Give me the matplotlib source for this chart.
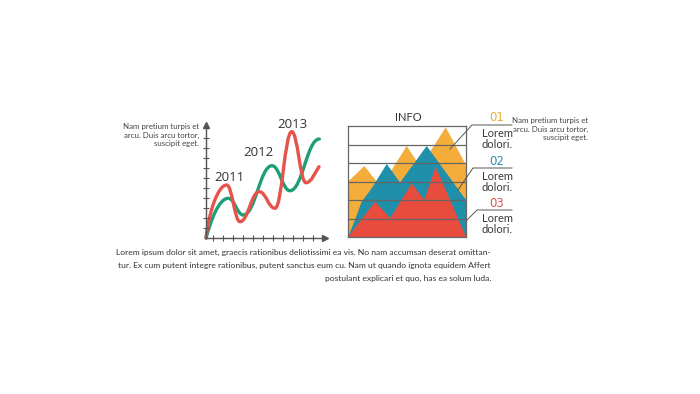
import matplotlib
matplotlib.use("Agg")
import matplotlib.pyplot as plt
from matplotlib.path import Path
from matplotlib.patches import PathPatch

# ---- data -------------------------------------------------------------
# left line chart (key turning points of each wave)
red_x = [0, 2.07, 3.4, 5.33, 6.9, 8.57, 10.0, 11.3]
red_y = [0, 5.3, 1.63, 4.63, 2.97, 10.63, 5.53, 7.13]
green_x = [0, 2.23, 3.73, 6.6, 8.4, 11.33]
green_y = [0, 3.97, 2.3, 7.23, 4.73, 9.9]
years = ["2011", "2012", "2013"]
year_pos = [(229, 177), (258, 152), (292, 124)]   # pixel positions

# right mountain chart
yellow_x = [0, 0, 1.66, 3.36, 5.97, 7.37, 9.94, 12, 12]
yellow_y = [0, 2.99, 3.84, 2.70, 4.92, 3.79, 5.93, 3.89, 0]
teal_x = [0, 0.71, 1.39, 2.41, 3.94, 5.29, 8.0, 12, 12]
teal_y = [0, 0.92, 1.91, 2.63, 3.95, 2.94, 4.92, 2.0, 0]
coral_x = [0, 2.75, 4.3, 6.48, 7.76, 8.92, 12]
coral_y = [0, 1.91, 1.02, 2.90, 2.0, 3.80, 0]

labels_num = ["01", "02", "03"]
labels_txt = ["Lorem\ndolori.", "Lorem\ndolori.", "Lorem\ndolori."]

side_note = "Nam pretium turpis et\narcu. Duis arcu tortor,\nsuscipit eget."
paragraph = [
    "Lorem ipsum dolor sit amet, graecis rationibus deliotissimi ea vis. No nam accumsan deserat omittan-",
    "tur. Ex cum putent integre rationibus, putent sanctus eum cu. Nam ut quando ignota equidem Affert",
    "postulant explicari et quo, has ea solum luda.",
]

RED = "#E5534B"
GREEN = "#1E9E74"
YELLOW = "#F4AD3A"
TEAL = "#1F8FAA"
CORAL = "#E84C3D"
AXC = "#555555"
TXT = "#333333"
NUM_COL = ["#E8B03A", "#2B8FA8", "#D9534F"]

W, H = 700, 394


def wave_path(xs, ys, k=0.42, free_end=False, start=(0.15, 0.5)):
    """bezier path through turning points, flat tangent at each turn"""
    verts = [(xs[0], ys[0])]
    codes = [Path.MOVETO]
    for i in range(len(xs) - 1):
        x0, y0, x1, y1 = xs[i], ys[i], xs[i + 1], ys[i + 1]
        dx = x1 - x0
        if i == 0:
            c1 = (x0 + start[0] * dx, y0 + start[1] * (y1 - y0))
        else:
            c1 = (x0 + k * dx, y0)
        if free_end and i == len(xs) - 2:
            c2 = (x1 - 0.3 * dx, y1 - 0.35 * (y1 - y0))
        else:
            c2 = (x1 - k * dx, y1)
        verts += [c1, c2, (x1, y1)]
        codes += [Path.CURVE4] * 3
    return Path(verts, codes)


fig = plt.figure(figsize=(7, 3.94), dpi=100)
fig.patch.set_facecolor("white")

# ---- left chart -------------------------------------------------------
ax1 = fig.add_axes([206 / W, 1 - 238 / H, 119 / W, 113 / H])
ax1.set_xlim(0, 11.9)
ax1.set_ylim(0, 11.3)
for s in ["top", "right"]:
    ax1.spines[s].set_visible(False)
for s in ["left", "bottom"]:
    ax1.spines[s].set_color(AXC)
    ax1.spines[s].set_linewidth(1.0)
ax1.set_xticks([0.7 + i for i in range(11)])
ax1.set_yticks([1 + i for i in range(10)])
ax1.tick_params(direction="inout", length=4, width=0.8, color=AXC,
                labelbottom=False, labelleft=False)
ax1.plot(0, 11.3, marker="^", color=AXC, markersize=4, clip_on=False)
ax1.plot(11.9, 0, marker=">", color=AXC, markersize=4, clip_on=False)
ax1.add_patch(PathPatch(wave_path(green_x, green_y, start=(0.22, 0.45)), fill=False,
                        edgecolor=GREEN, lw=2.4, capstyle="round", clip_on=False))
ax1.add_patch(PathPatch(wave_path(red_x, red_y, free_end=True), fill=False,
                        edgecolor=RED, lw=2.4, capstyle="round", clip_on=False))

# ---- right chart ------------------------------------------------------
ax2 = fig.add_axes([348 / W, 1 - 237 / H, 118 / W, 111 / H])
ax2.set_xlim(0, 12)
ax2.set_ylim(0, 6)
ax2.fill(yellow_x, yellow_y, color=YELLOW, lw=0, zorder=1)
ax2.fill(teal_x, teal_y, color=TEAL, lw=0, zorder=1.2)
ax2.fill(coral_x, coral_y, color=CORAL, lw=0, zorder=1.4)
for yy in range(1, 6):
    ax2.axhline(yy, color="#666666", lw=0.9, zorder=3)
for s in ax2.spines.values():
    s.set_color("#666666")
    s.set_linewidth(0.9)
    s.set_zorder(3)
ax2.set_xticks([])
ax2.set_yticks([])

# ---- overlay: texts and leader lines (pixel coords) -------------------
ov = fig.add_axes([0, 0, 1, 1], zorder=5)
ov.set_xlim(0, W)
ov.set_ylim(H, 0)
ov.axis("off")
ov.patch.set_alpha(0)

for yr, (px, py) in zip(years, year_pos):
    ov.text(px, py, yr, ha="center", va="center", fontsize=9.5,
            family="Open Sans", color=TXT)

ov.text(199, 135, side_note, ha="right", va="center", fontsize=5.7,
        family="Lato", color="#444444", linespacing=1.25)
ov.text(588, 129, side_note, ha="right", va="center", fontsize=5.7,
        family="Lato", color="#444444", linespacing=1.25)

ov.text(408, 117, "INFO", ha="center", va="center", fontsize=8,
        family="Lato", color=TXT)

leaders = [
    [(450, 149), (472, 125), (512, 125)],
    [(458, 190), (473, 168), (512, 168)],
    [(467, 220), (477, 210), (512, 210)],
]
num_y = [117, 161, 203]
txt_y = [139, 182, 224]
for i in range(3):
    lx = [p[0] for p in leaders[i]]
    ly = [p[1] for p in leaders[i]]
    ov.plot(lx, ly, color=AXC, lw=0.7)
    ov.text(489, num_y[i], labels_num[i], ha="left", va="center",
            fontsize=8.5, family="DejaVu Sans", color=NUM_COL[i])
    ov.text(482, txt_y[i], labels_txt[i], ha="left", va="center",
            fontsize=8, family="Lato", color="#3a3a3a", linespacing=1.0)

for i, line in enumerate(paragraph):
    ov.text(491, 252 + 13 * i, line, ha="right", va="center",
            fontsize=6.1, family="Lato", color=TXT)

fig.savefig("out.png", dpi=100)
